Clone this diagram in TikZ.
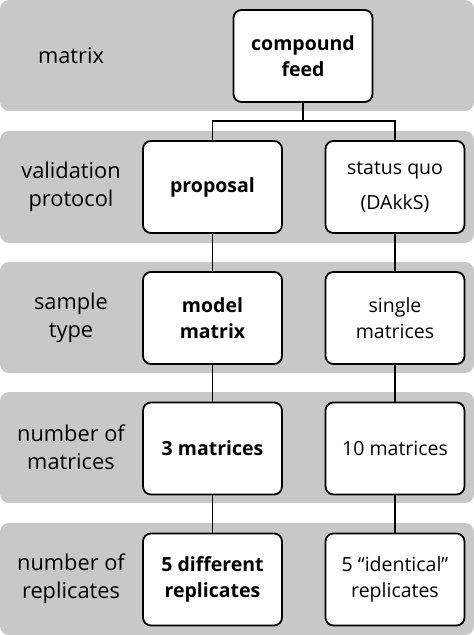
\documentclass[tikz,border=0pt]{standalone}
\usepackage{fontspec}
\setmainfont{Open Sans}
\definecolor{bandgray}{RGB}{200,200,200}
\begin{document}
\begin{tikzpicture}[x=1pt,y=-1pt,
  band/.style={fill=bandgray,draw=none,rounded corners=9pt},
  box/.style={draw=black,line width=1.8pt,fill=white,rounded corners=8pt,minimum width=139pt,minimum height=92pt,align=center,inner sep=0pt,font=\fontsize{19.5}{26}\selectfont},
  lab/.style={align=center,font=\fontsize{21.8}{28}\selectfont},
  conn/.style={draw=black,line width=1.8pt}]
\useasboundingbox (0,0) rectangle (474,635);
% bands
\foreach \t/\b in {0/111,131/243,262/373,392/503,523/635}{
  \fill[band] (0,\t) rectangle (474,\b);
}
% labels
\node[lab] (l1) at (71,55.5) {matrix};
\node[lab] (l2) at (71,187) {validation\\protocol};
\node[lab] (l3) at (71,317.5) {sample\\type};
\node[lab] (l4) at (71,447.5) {number of\\matrices};
\node[lab] (l5) at (71,579) {number of\\replicates};
% boxes
\node[box] (cf) at (303,56) {\textbf{compound}\\\textbf{feed}};
\node[box] (p1) at (212.5,187) {\textbf{proposal}};
\node[box,font=\fontsize{19.5}{35}\selectfont] (s1) at (395,187) {status quo\\(DAkkS)};
\node[box] (p2) at (212.5,318) {\textbf{model}\\\textbf{matrix}};
\node[box] (s2) at (395,318) {single\\matrices};
\node[box] (p3) at (212.5,448.5) {\textbf{3 matrices}};
\node[box] (s3) at (395,448.5) {10 matrices};
\node[box] (p4) at (212.5,579.5) {\textbf{5 different}\\\textbf{replicates}};
\node[box] (s4) at (395,579.5) {5 “identical”\\replicates};
% connectors
\coordinate (j) at (303,121);
\draw[conn] (cf.south) -- (j);
\draw[conn] (p1.north) |- (j) -| (s1.north);
\draw[conn] (p1) -- (p2);
\draw[conn] (p2) -- (p3);
\draw[conn] (p3) -- (p4);
\draw[conn] (s1) -- (s2);
\draw[conn] (s2) -- (s3);
\draw[conn] (s3) -- (s4);
\end{tikzpicture}
\end{document}
